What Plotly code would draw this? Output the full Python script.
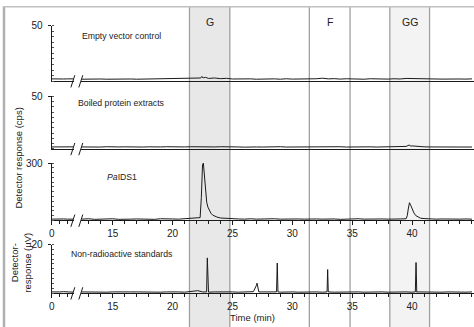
import plotly.graph_objects as go

W, H = 474, 327

# ---------------- data ----------------
T_LEFT = [0.0, 0.5, 1.0, 1.5, 2.0, 2.5, 2.75]
T_BASE = [12.4, 13.0, 13.5, 14.0, 14.5, 15.0, 15.5, 16.0, 16.5, 17.0,
          17.5, 18.0, 18.5, 19.0, 19.5, 20.0, 20.5, 21.0, 21.5, 22.0,
          22.5, 23.0, 23.5, 24.0, 24.5, 25.0, 25.5, 26.0, 26.5, 27.0,
          27.5, 28.0, 28.5, 29.0, 29.5, 30.0, 30.5, 31.0, 31.5, 32.0,
          32.5, 33.0, 33.5, 34.0, 34.5, 35.0, 35.5, 36.0, 36.5, 37.0,
          37.5, 38.0, 38.5, 39.0, 39.5, 40.0, 40.5, 41.0, 41.5, 42.0,
          42.5, 43.0, 43.5, 44.0, 44.5, 45.0]

# Panel 1: Empty vector control (cps)
P1_LEFT = [2.0, 1.8, 2.1, 1.9, 2.0, 1.8, 2.0]
P1_BASE = [1.7, 2.0, 1.6, 1.9, 1.7, 1.8, 2.1, 1.6, 1.9, 1.7,
           1.8, 1.6, 2.0, 1.7, 1.9, 1.8, 2.2, 2.0, 2.4, 2.6,
           3.2, 2.4, 2.8, 2.2, 2.5, 1.9, 2.1, 1.8, 2.0, 1.7,
           1.9, 1.8, 2.0, 1.7, 2.1, 1.8, 1.9, 2.0, 1.7, 2.1,
           2.6, 2.0, 2.2, 1.8, 2.1, 1.9, 2.0, 1.7, 2.1, 1.8,
           2.0, 1.8, 2.1, 1.9, 2.4, 2.2, 1.9, 2.0, 1.7, 1.9,
           1.8, 2.0, 1.7, 1.9, 1.8, 2.0]
P1_PEAK_T = [22.35, 22.45, 22.6, 22.75]
P1_PEAK_Y = [2.8, 4.2, 3.0, 3.4]

# Panel 2: Boiled protein extracts (cps)
P2_LEFT = [1.8, 1.9, 1.7, 1.8, 2.0, 1.8, 1.9]
P2_BASE = [1.8, 1.6, 1.9, 1.7, 2.0, 1.7, 1.8, 1.9, 1.6, 1.8,
           1.7, 1.9, 1.6, 1.8, 2.0, 1.7, 1.9, 1.8, 2.0, 1.8,
           2.1, 1.9, 1.8, 2.0, 1.7, 1.9, 1.8, 1.6, 1.9, 1.8,
           1.7, 1.9, 1.8, 2.0, 1.7, 1.8, 1.9, 1.7, 2.0, 1.8,
           1.9, 1.7, 1.8, 2.0, 1.7, 1.9, 1.8, 1.6, 1.9, 1.7,
           1.8, 2.0, 1.8, 1.9, 2.3, 2.8, 2.1, 1.9, 1.8, 1.7,
           1.9, 1.8, 1.7, 1.9, 1.8, 1.7]
P2_PEAK_T = [39.75, 39.9]
P2_PEAK_Y = [3.6, 2.6]

# Panel 3: PaIDS1 (cps)
P3_LEFT = [7, 8, 6, 8, 7, 8, 7]
P3_BASE = [7, 9, 6, 8, 7, 9, 6, 8, 7, 8,
           7, 8, 6, 9, 7, 8, 7, 9, 8, 10,
           290, 62, 22, 13, 10, 9, 8, 7, 9, 7,
           8, 7, 9, 7, 8, 6, 8, 7, 9, 8,
           7, 9, 8, 6, 8, 7, 9, 7, 8, 6,
           8, 7, 9, 8, 9, 60, 18, 10, 8, 7,
           8, 7, 9, 7, 8, 7]
P3_PEAK_T = [22.3, 22.4, 22.45, 22.57, 22.65, 22.75, 22.85, 22.95, 23.2, 23.35, 23.7, 24.2,
             39.6, 39.68, 39.78, 39.88, 39.95, 40.15, 40.3, 40.7]
P3_PEAK_Y = [15, 120, 230, 300, 240, 150, 95, 70, 38, 28, 18, 12,
             25, 60, 93, 80, 68, 40, 26, 12]

# Panel 4: Non-radioactive standards (µV)
P4_LEFT = [0.5, 0.4, 0.5, 0.6, 0.4, 0.5, 0.4]
P4_BASE = [0.5, 0.4, 0.6, 0.5, 0.4, 0.5, 0.6, 0.4, 0.5, 0.5,
           0.4, 0.6, 0.5, 0.4, 0.5, 0.6, 0.5, 0.4, 0.6, 0.9,
           0.5, 0.4, 0.5, 0.6, 0.4, 0.5, 0.4, 0.5, 0.6, 3.2,
           0.5, 0.4, 0.5, 0.4, 0.6, 0.5, 0.4, 0.5, 0.4, 0.5,
           0.4, 0.5, 0.4, 0.5, 0.4, 0.5, 0.5, 0.4, 0.5, 0.4,
           0.5, 0.4, 0.5, 0.6, 0.5, 0.4, 0.5, 0.4, 0.5, 0.5,
           0.4, 0.5, 0.4, 0.5, 0.4, 0.5]
P4_PEAK_T = [21.9, 22.1, 22.84, 22.9, 22.96, 26.75, 27.05, 27.2,
             28.68, 28.74, 28.8, 32.9, 32.95, 32.99, 40.27, 40.33, 40.39]
P4_PEAK_Y = [0.9, 1.0, 0.5, 14.5, 0.5, 0.6, 4.1, 0.5,
             0.5, 12.4, 0.5, 0.5, 9.7, 0.5, 0.5, 12.6, 0.4]

PANEL_LABELS = ["Empty vector control", "Boiled protein extracts",
                "<i>Pa</i>IDS1", "Non-radioactive standards"]
Y_MAX = [50, 50, 300, 20]
Y_MINOR = [5, 5, 25, 2]
X_TICKS_RIGHT = [15, 20, 25, 30, 35, 40]
X_TICKS_LEFT = [0]
REGION_NAMES = ["G", "F", "GG"]
REGION_START = [21.41, 31.42, 38.14]
REGION_END = [24.78, 34.82, 41.46]
REGION_FILL = ["#e8e8e8", None, "#f3f3f3"]

# ---------------- layout helpers ----------------
def fx(p):
    return p / W

def fy(p):
    return 1 - p / H

def merge(base, pt, py):
    pts = sorted(zip(T_BASE + pt, base + py))
    return [a for a, _ in pts], [b for _, b in pts]

PANEL_PX = [(20, 76.5), (92, 145.5), (160, 218.5), (243, 292.5)]
LEFT_DOM = [fx(49), fx(71)]
RIGHT_DOM = [fx(78), 1.0]
LEFT_RANGE = [0, 2.75]
RIGHT_RANGE = [12.31, 45.17]
FONT = "Liberation Sans, Arial, sans-serif"
INK = "#1a1a1a"

series = [
    (P1_LEFT, merge(P1_BASE, P1_PEAK_T, P1_PEAK_Y)),
    (P2_LEFT, merge(P2_BASE, P2_PEAK_T, P2_PEAK_Y)),
    (P3_LEFT, merge(P3_BASE, P3_PEAK_T, P3_PEAK_Y)),
    (P4_LEFT, merge(P4_BASE, P4_PEAK_T, P4_PEAK_Y)),
]

fig = go.Figure()
layout = dict(
    width=W, height=H, autosize=False,
    margin=dict(l=0, r=0, t=0, b=0),
    paper_bgcolor="white", plot_bgcolor="rgba(0,0,0,0)",
    showlegend=False,
    font=dict(family=FONT, size=10, color="#222"),
)

for i in range(4):
    xl_n, xr_n = 2 * i + 1, 2 * i + 2
    xl_id = "x" if xl_n == 1 else f"x{xl_n}"
    xr_id = f"x{xr_n}"
    y_id = "y" if i == 0 else f"y{i + 1}"
    top, bot = PANEL_PX[i]
    show_lab = i >= 2

    left_vals, (rt, rv) = series[i]
    fig.add_trace(go.Scatter(x=T_LEFT, y=left_vals, xaxis=xl_id, yaxis=y_id,
                             mode="lines", line=dict(color=INK, width=1),
                             hoverinfo="skip"))
    fig.add_trace(go.Scatter(x=rt, y=rv, xaxis=xr_id, yaxis=y_id,
                             mode="lines", line=dict(color=INK, width=1),
                             hoverinfo="skip"))

    common_x = dict(showgrid=False, zeroline=False, showline=True,
                    linecolor=INK, linewidth=1, anchor=y_id,
                    tickfont=dict(size=10, color="#222"))
    if show_lab:
        tick_x = dict(ticks="outside", ticklen=4, tickcolor=INK, tickwidth=1,
                      minor=dict(ticks="outside", ticklen=2.5, dtick=1,
                                 tickcolor=INK, tickwidth=1, showgrid=False))
    else:
        tick_x = dict(ticks="")
    layout["xaxis" if xl_n == 1 else f"xaxis{xl_n}"] = dict(
        domain=LEFT_DOM, range=LEFT_RANGE, tickvals=X_TICKS_LEFT,
        showticklabels=show_lab, **common_x, **tick_x)
    layout[f"xaxis{xr_n}"] = dict(
        domain=RIGHT_DOM, range=RIGHT_RANGE, tickvals=X_TICKS_RIGHT,
        showticklabels=show_lab, **common_x, **tick_x)
    layout["yaxis" if i == 0 else f"yaxis{i + 1}"] = dict(
        domain=[fy(bot), fy(top)], range=[0, Y_MAX[i]], anchor=xl_id,
        tickvals=[Y_MAX[i]], showgrid=False, zeroline=False, showline=True,
        linecolor=INK, linewidth=1, ticks="outside", ticklen=3,
        ticklabelstandoff=3,
        tickcolor=INK, tickfont=dict(size=10, color="#222"),
        minor=dict(ticks="inside", ticklen=2, dtick=Y_MINOR[i],
                   tickcolor="#555", tickwidth=1, showgrid=False))

fig.update_layout(**layout)

shapes = []
annotations = []

def note(text, x, y, size, xref="paper", angle=0):
    annotations.append(dict(text=text, xref=xref, yref="paper", x=x, y=y,
                            xanchor="center", yanchor="middle", textangle=angle,
                            showarrow=False, font=dict(size=size, color="#222")))

# shaded regions & boundary lines
for name, x0, x1, fill in zip(REGION_NAMES, REGION_START, REGION_END, REGION_FILL):
    if fill:
        shapes.append(dict(type="rect", xref="x2", yref="paper", x0=x0, x1=x1,
                           y0=0, y1=1, fillcolor=fill, line=dict(width=0),
                           layer="below"))
    for xv in (x0, x1):
        shapes.append(dict(type="line", xref="x2", yref="paper", x0=xv, x1=xv,
                           y0=0, y1=1, line=dict(color="#a0a0a0", width=1.3),
                           layer="below"))
    note(name, (x0 + x1) / 2, fy(16.7), 10.5, xref="x2")

# axis-break slashes
for top, bot in PANEL_PX:
    for xc in (70.3, 78.3):
        shapes.append(dict(type="line", xref="paper", yref="paper",
                           x0=fx(xc - 2), y0=fy(bot + 6.5), x1=fx(xc + 2), y1=fy(bot - 6),
                           line=dict(color=INK, width=1)))

# outer frame (left & top)
shapes.append(dict(type="line", xref="paper", yref="paper", x0=fx(1), x1=fx(1),
                   y0=0, y1=1, line=dict(color="#b0b0b0", width=2.5)))
shapes.append(dict(type="line", xref="paper", yref="paper", x0=0, x1=1,
                   y0=fy(0.7), y1=fy(0.7), line=dict(color="#c0c0c0", width=1.5)))

# panel labels
LABEL_Y = [30.7, 99.3, 174.3, 252.3]
for lab, ly in zip(PANEL_LABELS, LABEL_Y):
    note(lab, fx(119.5), fy(ly), 8.7)

# axis titles
note("Detector response (cps)", fx(15.5), fy(155), 9.5, angle=-90)
note("Detector-<br>response (µV)", fx(17.5), fy(261), 9.5, angle=-90)
note("Time (min)", fx(251.5), fy(317.7), 9.5)

fig.update_layout(shapes=shapes, annotations=annotations)
fig.write_html("out.html")
